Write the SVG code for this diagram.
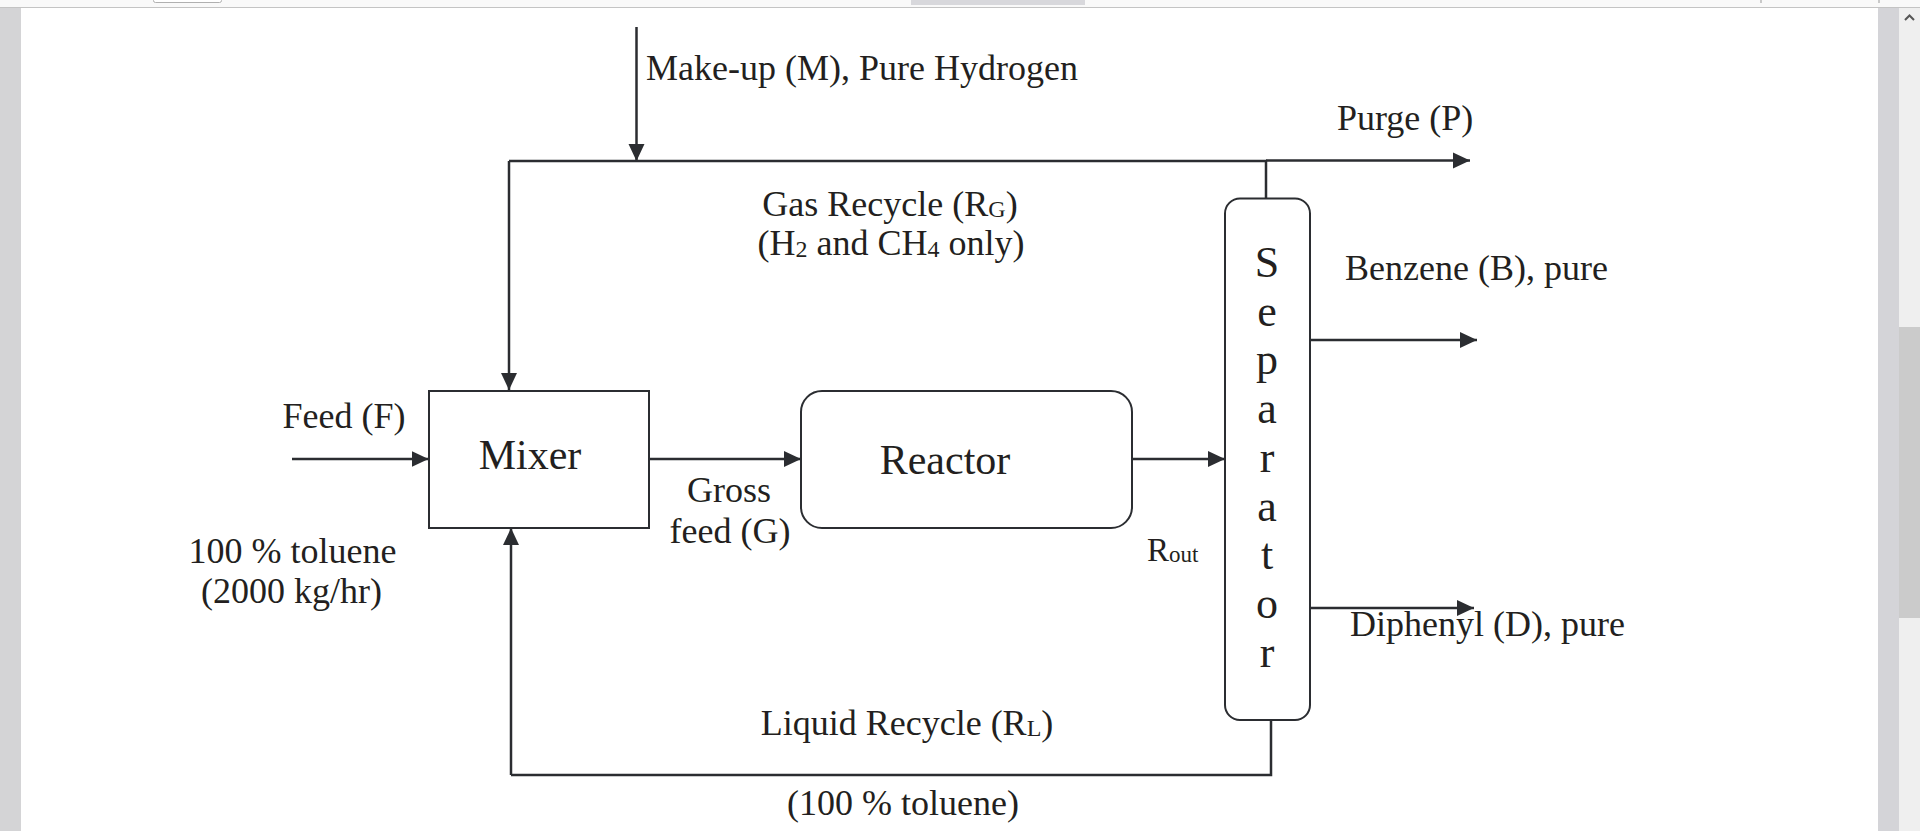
<svg xmlns="http://www.w3.org/2000/svg" width="1920" height="831" viewBox="0 0 1920 831">
<style>
  .t { font-family: "Liberation Serif", "Times New Roman", serif; font-size: 36px; fill: #231f20; }
  .big { font-size: 42px; }
  .sep { font-size: 44px; text-anchor: middle; }
  .mid { text-anchor: middle; }
  .sub { font-size: 24px; }
  .box { fill: #ffffff; stroke: #2b2d31; stroke-width: 2; }
  .flow { fill: none; stroke: #2b2d31; stroke-width: 2.5; }
  .flowa { fill: none; stroke: #2b2d31; stroke-width: 2.5; marker-end: url(#arr); }
</style>
<defs>
  <marker id="arr" markerUnits="userSpaceOnUse" markerWidth="18" markerHeight="18" viewBox="0 0 18 18" refX="17" refY="9" orient="auto">
    <path d="M0,1 L17,9 L0,17 Z" fill="#2b2d31"/>
  </marker>
</defs>

<!-- browser chrome -->
<g id="chrome">
  <rect x="0" y="0" width="1920" height="831" fill="#ffffff"/>
  <rect x="0" y="0" width="1920" height="7" fill="#f9f9f9"/>
  <line x1="0" y1="7.5" x2="1920" y2="7.5" stroke="#c4c4c4" stroke-width="1"/>
  <rect x="153.5" y="-4" width="68" height="6.5" rx="2" fill="#ffffff" stroke="#b0b0b0" stroke-width="1"/>
  <rect x="911" y="0" width="174" height="5" fill="#d8d8dc"/>
  <line x1="1761" y1="0" x2="1761" y2="3" stroke="#999" stroke-width="1"/>
  <line x1="1879" y1="0" x2="1879" y2="3" stroke="#999" stroke-width="1"/>
  <rect x="0" y="8" width="21" height="823" fill="#d4d4d6"/>
  <rect x="1878" y="8" width="21" height="823" fill="#d4d4d8"/>
  <rect x="1899" y="8" width="21" height="823" fill="#efefef"/>
  <rect x="1899" y="327" width="21" height="291" fill="#cbcbcb"/>
  <polyline points="1905,20 1909.5,15.5 1914,20" fill="none" stroke="#555" stroke-width="2"/>
</g>

<!-- connectors -->
<g id="connectors">
  <line class="flowa" x1="636.5" y1="27" x2="636.5" y2="161"/>
  <polyline class="flow" points="1266,198 1266,161 509,161"/>
  <line class="flowa" x1="509" y1="161" x2="509" y2="390"/>
  <line class="flowa" x1="1266" y1="160.5" x2="1470" y2="160.5"/>
  <line class="flowa" x1="1311" y1="340" x2="1477" y2="340"/>
  <line class="flowa" x1="1311" y1="608" x2="1474" y2="608"/>
  <line class="flowa" x1="292" y1="459" x2="428.5" y2="459"/>
  <line class="flowa" x1="649" y1="459" x2="801" y2="459"/>
  <line class="flowa" x1="1131" y1="459" x2="1225" y2="459"/>
  <polyline class="flow" points="1271,720 1271,775 511,775"/>
  <line class="flowa" x1="511" y1="775" x2="511" y2="528"/>
</g>

<!-- nodes -->
<g id="mixer">
  <rect class="box" x="429" y="391" width="220" height="137"/>
  <text class="t big mid" x="530" y="469">Mixer</text>
</g>
<g id="reactor">
  <rect class="box" x="801" y="391" width="331" height="137" rx="21" ry="21"/>
  <text class="t big mid" x="945" y="474">Reactor</text>
</g>
<g id="separator">
  <rect class="box" x="1225" y="198.5" width="85" height="521.5" rx="15" ry="15"/>
  <text class="t sep" x="1267" y="277">S</text>
  <text class="t sep" x="1267" y="326">e</text>
  <text class="t sep" x="1267" y="374">p</text>
  <text class="t sep" x="1267" y="423">a</text>
  <text class="t sep" x="1267" y="472">r</text>
  <text class="t sep" x="1267" y="521">a</text>
  <text class="t sep" x="1267" y="569">t</text>
  <text class="t sep" x="1267" y="618">o</text>
  <text class="t sep" x="1267" y="667">r</text>
</g>

<!-- labels -->
<g id="labels">
  <text class="t" x="646" y="80">Make-up (M), Pure Hydrogen</text>
  <text class="t" x="1337" y="130">Purge (P)</text>
  <text class="t mid" x="890" y="216">Gas Recycle (R<tspan class="sub" dy="1">G</tspan><tspan dy="-1">)</tspan></text>
  <text class="t mid" x="891" y="255">(H<tspan class="sub" dy="2">2</tspan><tspan dy="-2"> and CH</tspan><tspan class="sub" dy="2">4</tspan><tspan dy="-2"> only)</tspan></text>
  <text class="t" x="1345" y="280">Benzene (B), pure</text>
  <text class="t" x="282.5" y="428">Feed (F)</text>
  <text class="t mid" x="729" y="502">Gross</text>
  <text class="t mid" x="730" y="543">feed (G)</text>
  <text class="t mid" x="292.5" y="563">100 % toluene</text>
  <text class="t mid" x="291.5" y="603">(2000 kg/hr)</text>
  <text class="t" x="1147" y="561" style="font-size:33px">R<tspan class="sub" style="font-size:23px" dy="1">out</tspan></text>
  <text class="t" x="1350" y="636">Diphenyl (D), pure</text>
  <text class="t mid" x="907" y="735">Liquid Recycle (R<tspan class="sub" dy="1">L</tspan><tspan dy="-1">)</tspan></text>
  <text class="t mid" x="903" y="815">(100 % toluene)</text>
</g>
</svg>
